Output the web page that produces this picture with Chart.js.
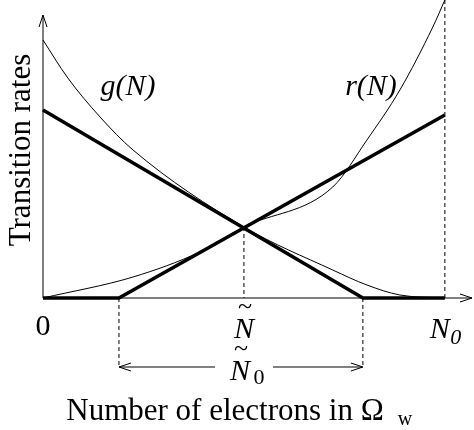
<!DOCTYPE html><html><head><script src="https://cdn.jsdelivr.net/npm/chart.js"></script>
<style>html,body{margin:0;padding:0;background:#fff}#w{width:474px;height:430px}</style></head><body><div id="w"><canvas id="c"></canvas></div>
<script>
const gCurveX=[0,6,14.2,22.4,50,72.1,80.6,88.8,100];
const gCurveY=[258,221,181,148,71,28,13,3,0];
const rCurveX=[0,22.4,39,50,72.1,80.6,88.8,97,100];
const rCurveY=[0,21,46,71,111,158,208,271,298];
const gLineX=[0,79.6,100];
const gLineY=[188,0,0];
const rLineX=[0,18.9,100];
const rLineY=[0,0,183];
const xMarks={lo:18.9,mid:50,hi:79.6,n0:100};
const crossY=71;
const pts=(xs,ys)=>xs.map((x,i)=>({x,y:ys[i]}));
const F='"Liberation Serif", "DejaVu Serif", serif';
const deco={id:'deco',afterDatasetsDraw(ch){
 const c=ch.ctx,xs=ch.scales.x,ys=ch.scales.y,a=ch.chartArea;
 const X=v=>xs.getPixelForValue(v),Y=v=>ys.getPixelForValue(v);
 c.save();c.strokeStyle='#000';c.fillStyle='#000';
 // axes
 c.lineWidth=1;c.beginPath();c.moveTo(X(0),Y(0));c.lineTo(a.right-1,Y(0));c.moveTo(X(0),Y(0));c.lineTo(X(0),15);c.stroke();
 c.beginPath();c.moveTo(a.right-13,Y(0)-4);c.lineTo(a.right-1,Y(0));c.lineTo(a.right-13,Y(0)+4);c.stroke();
 c.beginPath();c.moveTo(X(0)-4,27);c.lineTo(X(0),15);c.lineTo(X(0)+4,27);c.stroke();
 // dashed
 c.setLineDash([4,3]);c.beginPath();
 c.moveTo(X(xMarks.mid),Y(crossY));c.lineTo(X(xMarks.mid),Y(0));
 c.moveTo(X(xMarks.n0),0);c.lineTo(X(xMarks.n0),Y(0));
 c.moveTo(X(xMarks.lo),Y(0));c.lineTo(X(xMarks.lo),368);
 c.moveTo(X(xMarks.hi),Y(0));c.lineTo(X(xMarks.hi),368);
 c.stroke();c.setLineDash([]);
 const ay=367,l=X(xMarks.lo),r=X(xMarks.hi);
 c.beginPath();c.moveTo(l,ay);c.lineTo(215,ay);c.moveTo(273,ay);c.lineTo(r,ay);
 c.moveTo(l+12,ay-4);c.lineTo(l,ay);c.lineTo(l+12,ay+4);
 c.moveTo(r-12,ay-4);c.lineTo(r,ay);c.lineTo(r-12,ay+4);c.stroke();
 // text
 c.textAlign='center';c.textBaseline='alphabetic';
 c.font='30px '+F;c.fillText('0',X(0),335);
 c.font='italic 30px '+F;c.fillText('N',X(xMarks.mid),338);
 c.font='26px '+F;c.fillText('~',X(xMarks.mid)+1,314);
 c.font='italic 30px '+F;c.fillText('N',X(xMarks.n0)-5,338);
 c.font='italic 22px '+F;c.fillText('0',X(xMarks.n0)+11,344);
 c.font='italic 30px '+F;c.fillText('N',240,380);c.font='26px '+F;c.fillText('~',241,356);
 c.font='22px '+F;c.fillText('0',259,384);
 c.font='italic 30px '+F;c.fillText('g(N)',128,95);c.fillText('r(N)',371,95);
 c.font='31px '+F;c.fillText('Number of electrons in Ω',225,420);
 c.font='20px '+F;c.fillText('w',405,425);
 c.translate(22,150);c.rotate(-Math.PI/2);c.font='31px '+F;c.fillText('Transition rates',0,8);
 c.restore();}};
new Chart(document.getElementById('c'),{type:'scatter',
 data:{datasets:[
  {data:pts(gCurveX,gCurveY),borderWidth:1},
  {data:pts(rCurveX,rCurveY),borderWidth:1},
  {data:pts(gLineX,gLineY),borderWidth:3.5,tension:0},
  {data:pts(rLineX,rLineY),borderWidth:3.5,tension:0}
 ].map((d,i)=>Object.assign({showLine:true,borderColor:'#000',pointRadius:0,tension:i<2?0.4:0,cubicInterpolationMode:i<2?'monotone':'default',clip:false},d))},
 options:{responsive:true,maintainAspectRatio:false,animation:false,
  layout:{padding:{left:43,right:1,top:0,bottom:132}},
  plugins:{legend:{display:false},tooltip:{enabled:false}},
  scales:{x:{type:'linear',min:0,max:107,display:false},y:{min:0,max:298,display:false}}},
 plugins:[deco]});
</script></body></html>
